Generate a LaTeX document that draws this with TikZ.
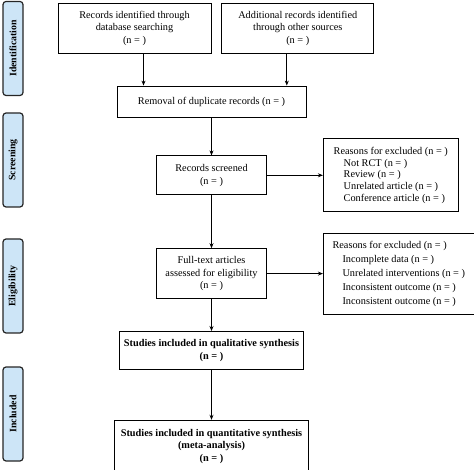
\documentclass[tikz,border=0pt]{standalone}
\usepackage{fontspec}
\setmainfont{Liberation Serif}
\usetikzlibrary{positioning}
\usetikzlibrary{arrows.meta}
\definecolor{tabblue}{HTML}{CDE5F7}
\begin{document}
\begin{tikzpicture}[
  box/.style={draw,line width=0.8pt,align=center,inner sep=3pt,font=\fontsize{10.3}{12.5}\selectfont},
  boldbox/.style={box,font=\fontsize{10.3}{12.5}\selectfont\bfseries},
  reasons/.style={draw,line width=0.8pt,align=left,inner xsep=6pt,inner ysep=3pt},
  phase/.style={draw=black!85,line width=1.2pt,fill=tabblue,rounded corners=3pt,rotate=90,
    minimum width=94pt,minimum height=20pt,inner sep=0pt,font=\fontsize{9.8}{11}\selectfont\bfseries},
  arr/.style={line width=0.8pt,-{Stealth[length=5pt,width=4pt]}}]
\useasboundingbox (0,0) rectangle (474pt,-470pt);
% phases
\node[phase] (ident) at (13pt,-48.5pt) {Identification};
\node[phase] (scr) at (13pt,-160pt) {Screening};
\node[phase] (elig) at (13pt,-286pt) {Eligibility};
\node[phase] (incl) at (13pt,-414pt) {Included};
% identification
\node[box,minimum width=153pt,minimum height=50pt] (db) at (134.5pt,-28pt)
  {Records identified through\\ database searching\\ (n = )};
\node[box,minimum width=152pt,minimum height=50pt,right=10pt of db] (other)
  {Additional records identified\\ through other sources\\ (n = )};
\node[box,minimum width=189pt,minimum height=31pt] (dup) at (211.5pt,-101.5pt)
  {Removal of duplicate records (n = )};
% screening and eligibility
\node[box,minimum width=110pt,minimum height=39pt,below=38pt of dup] (screen)
  {Records screened\\ (n = )};
\node[reasons,minimum width=135pt,minimum height=73pt,right=56pt of screen,
  font=\fontsize{10.3}{11.6}\selectfont] (excl1)
  {Reasons for excluded (n = )\\
   \hspace*{10pt}Not RCT (n = )\\
   \hspace*{10pt}Review (n = )\\
   \hspace*{10pt}Unrelated article (n = )\\
   \hspace*{10pt}Conference article (n = )};
\node[box,minimum width=110pt,minimum height=50pt,below=53pt of screen] (full)
  {Full-text articles\\ assessed for eligibility\\ (n = )};
\node[reasons,minimum width=151pt,minimum height=81pt,right=56pt of full,
  font=\fontsize{10.3}{14}\selectfont] (excl2)
  {Reasons for excluded (n = )\\
   \hspace*{10pt}Incomplete data (n = )\\
   \hspace*{10pt}Unrelated interventions (n = )\\
   \hspace*{10pt}Inconsistent outcome (n = )\\
   \hspace*{10pt}Inconsistent outcome (n = )};
% included
\node[boldbox,minimum width=184pt,minimum height=38pt,below=32pt of full] (qual)
  {Studies included in qualitative synthesis\\ (n = )};
\node[boldbox,minimum width=194pt,minimum height=52pt,below=50pt of qual] (quant)
  {Studies included in quantitative synthesis\\ (meta-analysis)\\ (n = )};
% arrows
\draw[arr] ([xshift=9pt]db.south) -- ([xshift=9pt]db.south |- dup.north);
\draw[arr] ([xshift=-11pt]other.south) -- ([xshift=-11pt]other.south |- dup.north);
\draw[arr] (dup) -- (screen);
\draw[arr] (screen) -- (excl1.west |- screen);
\draw[arr] (screen) -- (full);
\draw[arr] (full) -- (excl2.west |- full);
\draw[arr] (full) -- (qual);
\draw[arr] (qual) -- (quant);
\end{tikzpicture}
\end{document}
